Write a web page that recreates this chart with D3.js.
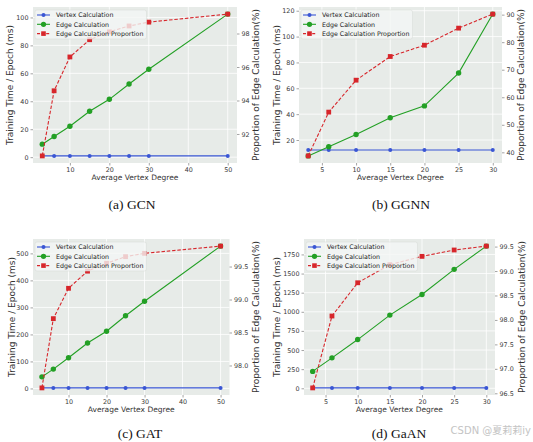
<!DOCTYPE html>
<html>
<head>
<meta charset="utf-8">
<title>Training time vs average vertex degree</title>
<script src="https://cdn.jsdelivr.net/npm/d3@7/dist/d3.min.js"></script>
<style>
  body { margin: 0; background: #fff; }
  svg { display: block; }
  .tick-label { font-family: "DejaVu Sans", sans-serif; font-size: 6.4px; fill: #3a3a3a; }
  .axis-label { font-family: "DejaVu Sans", sans-serif; fill: #333; }
  .legend-text { font-family: "DejaVu Sans", sans-serif; font-size: 6.3px; fill: #1a1a1a; }
  .caption { font-family: "Liberation Serif", serif; font-size: 13.5px; fill: #111; }
  .watermark { font-family: "DejaVu Sans", "Noto Sans CJK SC", sans-serif; font-size: 10px; fill: #c4c4c4; }
</style>
</head>
<body>
<div id="chart"></div>
<script>
// x values (average vertex degree)
const degreeLong = [3, 6, 10, 15, 20, 25, 30, 50];
const degreeShort = [3, 6, 10, 15, 20, 25, 30];

// (a) GCN
const gcnVertex = [0.9, 0.9, 0.9, 0.9, 0.9, 0.9, 0.9, 0.9];
const gcnEdge = [9.3, 14.8, 22.1, 32.9, 41.4, 52.4, 62.9, 102.4];
const gcnProp = [90.69, 94.58, 96.6, 97.63, 98.1, 98.45, 98.68, 99.16];

// (b) GGNN
const ggnnVertex = [12.3, 12.3, 12.3, 12.3, 12.3, 12.3, 12.3];
const ggnnEdge = [7.7, 14.8, 24.3, 37.2, 46.4, 71.8, 117.4];
const ggnnProp = [38.7, 54.6, 66.2, 74.8, 78.9, 85.1, 90.2];

// (c) GAT
const gatVertex = [2, 2, 2, 2, 2, 2, 2, 2];
const gatEdge = [43, 71.6, 113.6, 168, 212, 269, 323, 527];
const gatProp = [97.66, 98.71, 99.17, 99.43, 99.55, 99.65, 99.70, 99.81];

// (d) GaAN
const gaanVertex = [5, 5, 5, 5, 5, 5, 5];
const gaanEdge = [221, 398, 637, 957, 1226, 1555, 1859];
const gaanProp = [96.61, 98.08, 98.76, 99.13, 99.30, 99.43, 99.51];

// tick labels
const xTicksLong = [10, 20, 30, 40, 50];
const xTicksShort = [5, 10, 15, 20, 25, 30];
const gcnLeftTicks = [0, 20, 40, 60, 80, 100];
const gcnRightTicks = [92, 94, 96, 98];
const ggnnLeftTicks = [20, 40, 60, 80, 100, 120];
const ggnnRightTicks = [40, 50, 60, 70, 80, 90];
const gatLeftTicks = [0, 100, 200, 300, 400, 500];
const gatRightTicks = [98.0, 98.5, 99.0, 99.5];
const gaanLeftTicks = [0, 250, 500, 750, 1000, 1250, 1500, 1750];
const gaanRightTicks = [96.5, 97.0, 97.5, 98.0, 98.5, 99.0, 99.5];

const seriesNames = ["Vertex Calculation", "Edge Calculation", "Edge Calculation Proportion"];
const captions = ["(a) GCN", "(b) GGNN", "(c) GAT", "(d) GaAN"];

const colors = {vertex: "#3a56d4", edge: "#23a025", prop: "#d7262b"};

const panels = [
  {x: degreeLong, vertex: gcnVertex, edge: gcnEdge, prop: gcnProp,
   xTicks: xTicksLong, lTicks: gcnLeftTicks, rTicks: gcnRightTicks, rFmt: d3.format("d"),
   box: {left: 33, right: 237, top: 7, bottom: 163}, lLab: 10, rLab: 256, xLab: 180, cap: [132, 209]},
  {x: degreeShort, vertex: ggnnVertex, edge: ggnnEdge, prop: ggnnProp,
   xTicks: xTicksShort, lTicks: ggnnLeftTicks, rTicks: ggnnRightTicks, rFmt: d3.format("d"),
   box: {left: 299, right: 502, top: 7, bottom: 163}, lLab: 277, rLab: 521, xLab: 180, cap: [401, 209]},
  {x: degreeLong, vertex: gatVertex, edge: gatEdge, prop: gatProp,
   xTicks: xTicksLong, lTicks: gatLeftTicks, rTicks: gatRightTicks, rFmt: d3.format(".1f"),
   box: {left: 33, right: 229.5, top: 239, bottom: 395}, lLab: 12, rLab: 256, xLab: 412, cap: [140, 438]},
  {x: degreeShort, vertex: gaanVertex, edge: gaanEdge, prop: gaanProp,
   xTicks: xTicksShort, lTicks: gaanLeftTicks, rTicks: gaanRightTicks, rFmt: d3.format(".1f"),
   box: {left: 304, right: 495, top: 239, bottom: 395}, lLab: 277, rLab: 522, xLab: 412, cap: [399, 438]}
];

const svg = d3.select("#chart").append("svg")
  .attr("width", 533)
  .attr("height", 442);

// matplotlib style 5% padding around the data
function padded(values) {
  const [lo, hi] = d3.extent(values);
  const p = (hi - lo) * 0.05;
  return [lo - p, hi + p];
}

panels.forEach((p, i) => {
  const b = p.box;
  const g = svg.append("g");

  const x = d3.scaleLinear().domain(padded(p.x)).range([b.left, b.right]);
  const yL = d3.scaleLinear().domain(padded(p.vertex.concat(p.edge))).range([b.bottom, b.top]);
  const yR = d3.scaleLinear().domain(padded(p.prop)).range([b.bottom, b.top]);

  // background
  g.append("rect")
    .attr("x", b.left).attr("y", b.top)
    .attr("width", b.right - b.left).attr("height", b.bottom - b.top)
    .attr("fill", "#e7ebe8");

  // grid
  g.selectAll(".vgrid").data(p.xTicks).join("line")
    .attr("x1", d => x(d)).attr("x2", d => x(d))
    .attr("y1", b.top).attr("y2", b.bottom)
    .attr("stroke", "#fff").attr("stroke-width", 0.8);
  g.selectAll(".hgrid").data(p.lTicks).join("line")
    .attr("x1", b.left).attr("x2", b.right)
    .attr("y1", d => yL(d)).attr("y2", d => yL(d))
    .attr("stroke", "#fff").attr("stroke-width", 0.8);

  // axes: bottom, left, right
  const axB = g.append("g").attr("transform", `translate(0,${b.bottom})`)
    .call(d3.axisBottom(x).tickValues(p.xTicks).tickSize(2.5).tickPadding(2));
  const axL = g.append("g").attr("transform", `translate(${b.left},0)`)
    .call(d3.axisLeft(yL).tickValues(p.lTicks).tickFormat(d3.format("d")).tickSize(2.5).tickPadding(2));
  const axR = g.append("g").attr("transform", `translate(${b.right},0)`)
    .call(d3.axisRight(yR).tickValues(p.rTicks).tickFormat(p.rFmt).tickSize(2.5).tickPadding(2));
  [axB, axL, axR].forEach(ax => {
    ax.select(".domain").remove();
    ax.selectAll(".tick line").attr("stroke", "#666").attr("stroke-width", 0.6);
    ax.selectAll(".tick text").attr("class", "tick-label").attr("fill", null);
    ax.attr("font-family", null).attr("font-size", null);
  });

  // axis labels
  g.append("text").attr("class", "axis-label")
    .attr("x", (b.left + b.right) / 2).attr("y", p.xLab)
    .attr("text-anchor", "middle").style("font-size", "7.5px")
    .text("Average Vertex Degree");
  g.append("text").attr("class", "axis-label")
    .attr("transform", `translate(${p.lLab + 3},${(b.top + b.bottom) / 2}) rotate(-90)`)
    .attr("text-anchor", "middle").style("font-size", "9px")
    .text("Training Time / Epoch (ms)");
  g.append("text").attr("class", "axis-label")
    .attr("transform", `translate(${p.rLab + 3},${(b.top + b.bottom) / 2}) rotate(-90)`)
    .attr("text-anchor", "middle").style("font-size", "9px")
    .text("Proportion of Edge Calculation(%)");

  // series
  const line = yScale => d3.line().x((d, j) => x(p.x[j])).y(d => yScale(d));

  g.append("path").datum(p.vertex)
    .attr("d", line(yL)).attr("fill", "none")
    .attr("stroke", colors.vertex).attr("stroke-width", 1.1);
  g.selectAll(".pv").data(p.vertex).join("circle")
    .attr("cx", (d, j) => x(p.x[j])).attr("cy", d => yL(d))
    .attr("r", 2).attr("fill", colors.vertex);

  g.append("path").datum(p.edge)
    .attr("d", line(yL)).attr("fill", "none")
    .attr("stroke", colors.edge).attr("stroke-width", 1.1);
  g.selectAll(".pe").data(p.edge).join("circle")
    .attr("cx", (d, j) => x(p.x[j])).attr("cy", d => yL(d))
    .attr("r", 2.7).attr("fill", colors.edge);

  g.append("path").datum(p.prop)
    .attr("d", line(yR)).attr("fill", "none")
    .attr("stroke", colors.prop).attr("stroke-width", 1.1)
    .attr("stroke-dasharray", "3.5,1.8");
  g.selectAll(".pp").data(p.prop).join("rect")
    .attr("x", (d, j) => x(p.x[j]) - 2.4).attr("y", d => yR(d) - 2.4)
    .attr("width", 4.8).attr("height", 4.8).attr("fill", colors.prop);

  // legend
  const lg = g.append("g").attr("transform", `translate(${b.left + 2},${b.top + 3})`);
  const bg = lg.append("rect")
    .attr("x", 0).attr("y", 0).attr("height", 29).attr("rx", 2)
    .attr("fill", "#f4f6f5").attr("fill-opacity", 0.8)
    .attr("stroke", "#d4d8d5").attr("stroke-width", 0.5);
  let maxW = 0;
  seriesNames.forEach((name, k) => {
    const yy = 5 + k * 9.3;
    const c = [colors.vertex, colors.edge, colors.prop][k];
    lg.append("line").attr("x1", 2).attr("x2", 15).attr("y1", yy).attr("y2", yy)
      .attr("stroke", c).attr("stroke-width", 1.1)
      .attr("stroke-dasharray", k === 2 ? "3,1.6" : null);
    if (k === 0) lg.append("circle").attr("cx", 8.5).attr("cy", yy).attr("r", 2).attr("fill", c);
    if (k === 1) lg.append("circle").attr("cx", 8.5).attr("cy", yy).attr("r", 2.6).attr("fill", c);
    if (k === 2) lg.append("rect").attr("x", 6.2).attr("y", yy - 2.3).attr("width", 4.6).attr("height", 4.6).attr("fill", c);
    const t = lg.append("text").attr("class", "legend-text")
      .attr("x", 21).attr("y", yy + 2.2).text(name);
    maxW = Math.max(maxW, t.node().getComputedTextLength());
  });
  bg.attr("width", 21 + maxW + 3);

  // caption
  svg.append("text").attr("class", "caption")
    .attr("x", p.cap[0]).attr("y", p.cap[1])
    .attr("text-anchor", "middle").text(captions[i]);
});

svg.append("text").attr("class", "watermark")
  .attr("x", 531).attr("y", 434).attr("text-anchor", "end")
  .text("CSDN @夏莉莉iy");
</script>
</body>
</html>
